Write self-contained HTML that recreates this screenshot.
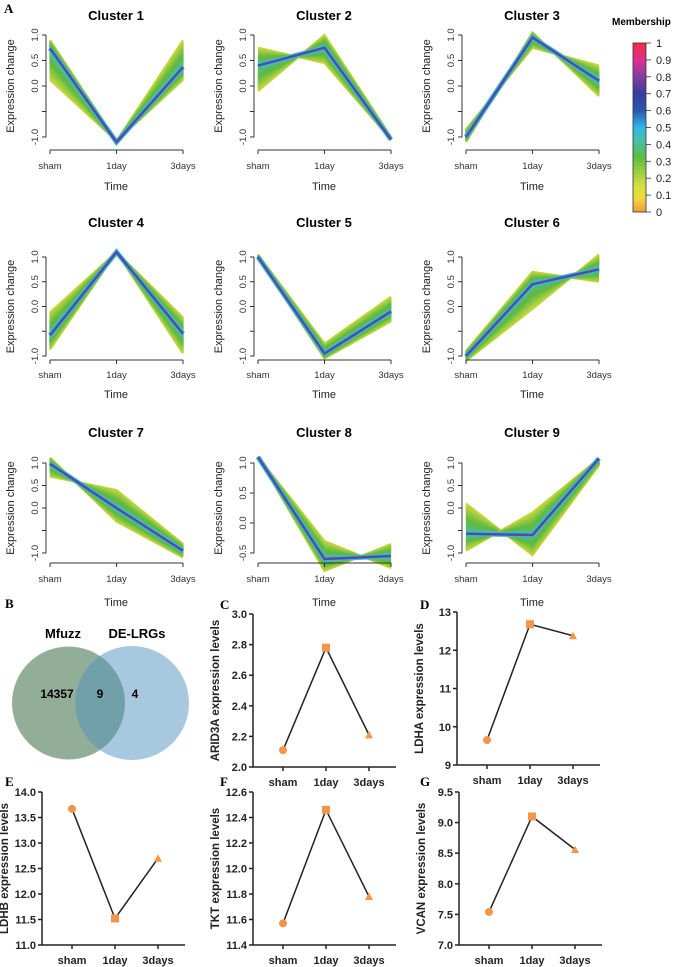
<!DOCTYPE html>
<html><head><meta charset="utf-8">
<style>
html,body{margin:0;padding:0;background:#fff;}
svg{display:block;font-family:"Liberation Sans",Arial,sans-serif;}
</style></head>
<body>
<svg id="fig" width="685" height="967" viewBox="0 0 685 967" xmlns="http://www.w3.org/2000/svg">
<defs>
<linearGradient id="memgrad" x1="0" y1="1" x2="0" y2="0">
<stop offset="0" stop-color="#f39a3a"/><stop offset="0.08" stop-color="#f0d840"/><stop offset="0.15" stop-color="#d8e040"/>
<stop offset="0.25" stop-color="#90cc40"/><stop offset="0.33" stop-color="#5cbc44"/><stop offset="0.42" stop-color="#48c0a8"/>
<stop offset="0.5" stop-color="#30b8e8"/><stop offset="0.6" stop-color="#2858b0"/><stop offset="0.7" stop-color="#3a3c9c"/>
<stop offset="0.8" stop-color="#8040a0"/><stop offset="0.9" stop-color="#e03090"/><stop offset="1" stop-color="#f02c3c"/>
</linearGradient>
</defs>
<text x="4" y="13" font-family="Liberation Serif" font-weight="bold" font-size="13">A</text>
<g id="clusters"></g>
<g>
<text x="612" y="25" font-size="10" font-weight="bold">Membership</text>
<rect x="633" y="43" width="13" height="169" fill="url(#memgrad)" stroke="#333" stroke-width="0.8"/>
<g id="legticks"></g>
</g>
<g id="venn">
<text x="5" y="608" font-family="Liberation Serif" font-weight="bold" font-size="13">B</text>
<circle cx="68.5" cy="703" r="56.5" fill="#93ae98"/>
<circle cx="132" cy="703" r="57" fill="#a8c8e0"/>
<clipPath id="clipg"><circle cx="68.5" cy="703" r="56.5"/></clipPath>
<circle cx="132" cy="703" r="57" fill="#72a0aa" clip-path="url(#clipg)"/>
<text x="63" y="638" font-size="13" font-weight="bold" text-anchor="middle">Mfuzz</text>
<text x="137" y="638" font-size="13" font-weight="bold" text-anchor="middle">DE-LRGs</text>
<text x="57" y="698" font-size="12" font-weight="bold" text-anchor="middle">14357</text>
<text x="100" y="698" font-size="12" font-weight="bold" text-anchor="middle">9</text>
<text x="135" y="698" font-size="12" font-weight="bold" text-anchor="middle">4</text>
</g>
<g id="dots"></g>
</svg>
<script>
const NS="http://www.w3.org/2000/svg";
const timeLabels=["sham","1day","3days"];
// cluster data: center line and two low-membership envelope lines
const clusterNames=["Cluster 1","Cluster 2","Cluster 3","Cluster 4","Cluster 5","Cluster 6","Cluster 7","Cluster 8","Cluster 9"];
const centerVals=[[0.74,-1.1,0.37],[0.4,0.75,-1.05],[-1.0,0.95,0.1],[-0.58,1.1,-0.55],[1.0,-0.95,-0.1],[-1.0,0.45,0.75],[0.98,0.0,-0.95],[1.1,-0.6,-0.55],[-0.57,-0.6,1.1]];
const envA=[[0.9,-1.08,0.12],[-0.1,1.0,-1.0],[-0.85,0.75,0.4],[-0.12,1.1,-0.95],[1.05,-0.75,0.2],[-0.9,0.7,0.5],[1.12,-0.3,-1.1],[1.1,-0.3,-0.75],[0.1,-1.05,0.95]];
const envB=[[0.12,-1.08,0.9],[0.75,0.45,-1.05],[-1.1,1.05,-0.2],[-0.87,1.1,-0.22],[1.0,-1.05,-0.3],[-1.1,-0.05,1.05],[0.7,0.4,-0.8],[1.1,-0.8,-0.35],[-0.95,-0.1,1.1]];
const tickVals=[[1,0.5,0,-0.5,-1],[1,0.5,0,-0.5,-1],[1,0.5,0,-0.5,-1],[1,0.5,0,-0.5,-1],[1,0.5,0,-0.5,-1],[1,0.5,0,-0.5,-1],[1,0.5,0,-0.5,-1],[1,0.5,0,-0.5],[1,0.5,0,-0.5,-1]];
const legendTicks=["0","0.1","0.2","0.3","0.4","0.5","0.6","0.7","0.8","0.9","1"];

function el(tag,attrs,parent,txt){const e=document.createElementNS(NS,tag);for(const k in attrs)e.setAttribute(k,attrs[k]);if(txt!==undefined)e.textContent=txt;parent.appendChild(e);return e;}
const stops=[[0,[243,154,58]],[0.1,[236,220,64]],[0.2,[168,208,64]],[0.3,[96,184,64]],[0.4,[72,192,168]],[0.5,[48,184,232]],[0.6,[40,88,176]],[0.7,[58,60,156]],[0.8,[128,64,160]],[0.9,[224,48,144]],[1,[240,44,60]]];
function col(m){for(let i=0;i<stops.length-1;i++){const a=stops[i],b=stops[i+1];if(m<=b[0]){const t=(m-a[0])/(b[0]-a[0]);return "rgb("+a[1].map((v,j)=>Math.round(v+(b[1][j]-v)*t)).join(",")+")";}}return "rgb(240,44,60)";}

const rows=[{title:16,y1:35,ym1:137,axis:150,lbl:165,time:186},{title:223,y1:257,ym1:356,axis:360,lbl:374,time:394},{title:433,y1:463,ym1:553,axis:563,lbl:578,time:602}];
const cg=document.getElementById("clusters");
clusterNames.forEach((name,i)=>{
  const r=rows[Math.floor(i/3)],c=i%3,ox=c*208;
  const g=el("g",{},cg);
  
  
  let lo=-1,loY=r.ym1;
  if(i===7){lo=-0.5;}
  const yS=v=>r.y1+(1-v)*(loY-r.y1)/(1-lo);
  const xS=k=>ox+50+k*66.5;
  const t=el("text",{x:ox+116,y:r.title+4,"font-size":13,"font-weight":"bold","text-anchor":"middle"},g,name);
  
  
  const lines=el("g",{},g);
  
  
  [envA[i],envB[i]].forEach(env=>{
    const N=28;
    for(let n=0;n<=N;n++){const k=n/N;
      const vals=env.map((v,j)=>v+(centerVals[i][j]-v)*k);
      const p=el("polyline",{points:vals.map((v,j)=>xS(j)+","+yS(v)).join(" "),fill:"none",stroke:col(0.14+0.24*Math.pow(k,0.8)),"stroke-width":2.2},lines);
      
      
    }
  });
  [[0.42,5],[0.5,3.6],[0.6,2.4],[0.78,1.4]].forEach(([m,w])=>{
    const p=el("polyline",{points:centerVals[i].map((v,j)=>xS(j)+","+yS(v)).join(" "),fill:"none",stroke:col(m),"stroke-width":w},lines);
    
    
  });
  const tv=tickVals[i];
  const ax=ox+46;
  const ya=el("line",{x1:ax,x2:ax,y1:yS(tv[0]),y2:yS(tv[tv.length-1]),stroke:"#333","stroke-width":1},g);
  
  
  tv.forEach((v,j)=>{
    el("line",{x1:ax-4,x2:ax,y1:yS(v),y2:yS(v),stroke:"#333","stroke-width":1},g);
    if(!(v===-0.5&&i!==7)){
      const yy=yS(v);
      const lb=el("text",{x:ax-8,y:yy,"font-size":9.5,fill:"#333","text-anchor":"middle",transform:"rotate(-90 "+(ax-8)+" "+yy+")"},g,v.toFixed(1));
      
      
    }
  });
  const yt=el("text",{x:ox+14,y:(r.y1+r.ym1)/2,"font-size":11,fill:"#222","text-anchor":"middle",transform:"rotate(-90 "+(ox+14)+" "+((r.y1+r.ym1)/2)+")"},g,"Expression change");
  
  
  const xa=el("line",{x1:xS(0),x2:xS(2),y1:r.axis,y2:r.axis,stroke:"#333","stroke-width":1},g);
  
  
  timeLabels.forEach((lbl,j)=>{
    el("line",{x1:xS(j),x2:xS(j),y1:r.axis,y2:r.axis+4,stroke:"#333","stroke-width":1},g);
    const tl=el("text",{x:xS(j),y:r.lbl+4,"font-size":9.5,fill:"#333","text-anchor":"middle"},g,lbl);
    
    
  });
  const tt=el("text",{x:ox+116,y:r.time+4,"font-size":11,fill:"#222","text-anchor":"middle"},g,"Time");
  
  
});
const lt=document.getElementById("legticks");
legendTicks.forEach((s,i)=>{const y=212-i*16.9;
  el("line",{x1:646,x2:651,y1:y,y2:y,stroke:"#333","stroke-width":0.8},lt);
  const t=el("text",{x:656,y:y+4,"font-size":11,fill:"#222"},lt,s);
  
  
});

const geneNames=["ARID3A","LDHA","LDHB","TKT","VCAN"];
const geneLetters=["C","D","E","F","G"];
const geneVals=[[2.11,2.78,2.21],[9.65,12.68,12.38],[13.67,11.52,12.70],[11.57,12.46,11.78],[7.54,9.10,8.56]];
const geneTicks=[[2.0,2.2,2.4,2.6,2.8,3.0],[9,10,11,12,13],[11.0,11.5,12.0,12.5,13.0,13.5,14.0],[11.4,11.6,11.8,12.0,12.2,12.4,12.6],[7.0,7.5,8.0,8.5,9.0,9.5]];
const geneDec=[1,0,1,1,1];
const gpos=[{ax:253,top:614,bot:767,lx:220,ly:609},{ax:457,top:612,bot:765,lx:420,ly:609},{ax:42,top:792,bot:945,lx:5,ly:786},{ax:253,top:792,bot:945,lx:220,ly:786},{ax:459,top:792,bot:945,lx:420,ly:786}];
const dg=document.getElementById("dots");
geneNames.forEach((gn,i)=>{
  const p=gpos[i],tk=geneTicks[i],mn=tk[0],mx=tk[tk.length-1];
  const g=el("g",{},dg);
  
  
  const yS=v=>p.bot-(v-mn)/(mx-mn)*(p.bot-p.top);
  const xS=k=>p.ax+30+k*43;
  const L=el("text",{x:p.lx,y:p.ly,"font-family":"Liberation Serif","font-weight":"bold","font-size":13},g,geneLetters[i]);
  
  
  const ya=el("line",{x1:p.ax,x2:p.ax,y1:p.top,y2:p.bot,stroke:"#222","stroke-width":1.5},g);
  
  
  const xa=el("line",{x1:p.ax,x2:p.ax+143,y1:p.bot,y2:p.bot,stroke:"#222","stroke-width":1.5},g);
  
  
  tk.forEach(v=>{const y=yS(v);
    el("line",{x1:p.ax-4,x2:p.ax,y1:y,y2:y,stroke:"#222","stroke-width":1.5},g);
    const t=el("text",{x:p.ax-6,y:y+4,"font-size":11,"font-weight":"bold",fill:"#222","text-anchor":"end"},g,v.toFixed(geneDec[i]));
    
    
  });
  timeLabels.forEach((lbl,j)=>{
    el("line",{x1:xS(j),x2:xS(j),y1:p.bot,y2:p.bot+4,stroke:"#222","stroke-width":1.5},g);
    const t=el("text",{x:xS(j),y:p.bot+19,"font-size":11,"font-weight":"bold",fill:"#222","text-anchor":"middle"},g,lbl);
    
    
  });
  const cy=(p.top+p.bot)/2,tx=p.ax-34;
  const yt=el("text",{x:tx,y:cy,"font-size":11.5,"font-weight":"bold",fill:"#222","text-anchor":"middle",transform:"rotate(-90 "+tx+" "+cy+")"},g,gn+" expression levels");
  
  
  const v=geneVals[i];
  const ln=el("polyline",{points:v.map((d,j)=>xS(j)+","+yS(d)).join(" "),fill:"none",stroke:"#222","stroke-width":1.5},g);
  
  
  const c0=el("circle",{cx:xS(0),cy:yS(v[0]),r:4,fill:"#f4964a"},g);
  
  
  const s1=el("rect",{x:xS(1)-4,y:yS(v[1])-4,width:8,height:8,fill:"#f4964a"},g);
  
  
  const x2=xS(2),y2=yS(v[2]);
  const t2=el("polygon",{points:(x2-4)+","+(y2+3.5)+" "+(x2+4)+","+(y2+3.5)+" "+x2+","+(y2-4),fill:"#f4964a"},g);
  
  
});
</script>
</body></html>
